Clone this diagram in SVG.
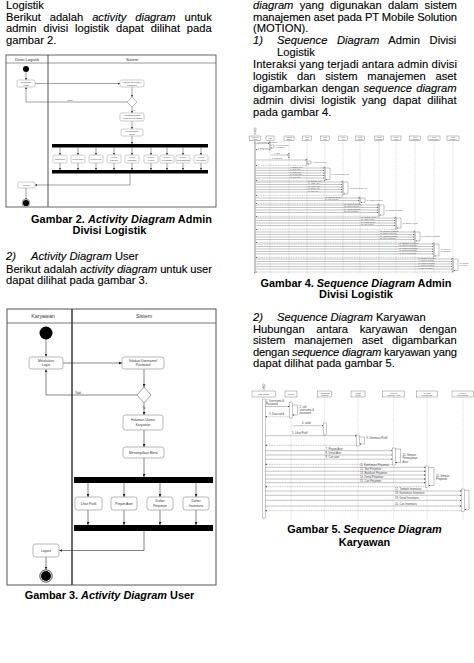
<svg xmlns="http://www.w3.org/2000/svg" width="474" height="663" viewBox="0 0 474 663">
<style>
.t{font-family:"Liberation Sans",Arial,sans-serif;font-size:11.2px;fill:#000;stroke:#000;stroke-width:0.12}
.i{font-style:italic}
.cap{font-family:"Liberation Sans",Arial,sans-serif;font-size:10.9px;font-weight:bold;fill:#000}
.frame{fill:#fff;stroke:#555;stroke-width:0.9}
.div{stroke:#444;stroke-width:1.3}
.ln{stroke:#333;stroke-width:0.45;fill:none}
.ln3{stroke:#333;stroke-width:0.6;fill:none}
.box{fill:#fff;stroke:#999;stroke-width:0.5}
.box3{fill:#fff;stroke:#999;stroke-width:0.7}
.bar{fill:#000}
.s2{font-family:"Liberation Sans",Arial,sans-serif;font-size:2.2px;fill:#333;text-anchor:middle}
.s3{font-family:"Liberation Sans",Arial,sans-serif;font-size:3.3px;fill:#333;text-anchor:middle}
.hd2{font-family:"Liberation Sans",Arial,sans-serif;font-size:4px;fill:#333;text-anchor:middle}
.hd3{font-family:"Liberation Sans",Arial,sans-serif;font-size:5.3px;fill:#333;text-anchor:middle}
.life{stroke:#aaa;stroke-width:0.4;stroke-dasharray:1 0.8}
.msg{stroke:#555;stroke-width:0.35;fill:none}
.ret{stroke:#555;stroke-width:0.35;fill:none;stroke-dasharray:1 0.7}
.act{fill:#fff;stroke:#666;stroke-width:0.35}
.hb{fill:#fff;stroke:#666;stroke-width:0.4}
.q4{font-family:"Liberation Sans",Arial,sans-serif;font-size:1.8px;fill:#555}
.q4c{font-family:"Liberation Sans",Arial,sans-serif;font-size:1.6px;fill:#444;text-anchor:middle}
.q5{font-family:"Liberation Sans",Arial,sans-serif;font-size:2.7px;fill:#444}
.q5c{font-family:"Liberation Sans",Arial,sans-serif;font-size:2.5px;fill:#444;text-anchor:middle}
</style>
<defs>
<marker id="a2" viewBox="0 0 10 10" refX="10" refY="5" markerWidth="2" markerHeight="2" markerUnits="userSpaceOnUse" orient="auto"><path d="M0,0L10,5L0,10z" fill="#222"/></marker>
<marker id="a3" viewBox="0 0 10 10" refX="10" refY="5" markerWidth="3" markerHeight="3" markerUnits="userSpaceOnUse" orient="auto"><path d="M0,0L10,5L0,10z" fill="#222"/></marker>
<marker id="as" viewBox="0 0 10 10" refX="10" refY="5" markerWidth="1.6" markerHeight="1.6" markerUnits="userSpaceOnUse" orient="auto"><path d="M0,0L10,5L0,10z" fill="#333"/></marker>
</defs>
<rect width="474" height="663" fill="#fff"/>

<!-- ===== Left column text ===== -->
<g id="text-left">
<text class="t" x="6" y="9">Logistik</text>
<text class="t" x="6" y="20.6" word-spacing="5.75">Berikut adalah <tspan class="i">activity diagram</tspan> untuk</text>
<text class="t" x="6" y="32.4" word-spacing="3.7">admin divisi logistik dapat dilihat pada</text>
<text class="t" x="6" y="44.2">gambar 2.</text>
<text class="cap" x="31" y="222.7" textLength="181" lengthAdjust="spacing">Gambar 2.  <tspan class="i">Activity Diagram</tspan> Admin</text>
<text class="cap" x="109.5" y="234.3" text-anchor="middle">Divisi Logistik</text>
<text class="t" y="260"><tspan x="6" class="i">2)</tspan><tspan x="31" class="i">Activity Diagram</tspan> User</text>
<text class="t" x="6" y="272.7" textLength="206" lengthAdjust="spacing">Berikut adalah <tspan class="i">activity diagram</tspan> untuk user</text>
<text class="t" x="6" y="284.3">dapat dilihat pada gambar 3.</text>
<text class="cap" x="109.5" y="599.3" text-anchor="middle">Gambar 3. <tspan class="i">Activity Diagram</tspan> User</text>
</g>

<!-- ===== Right column text ===== -->
<g id="text-right">
<text class="t" x="253" y="9" word-spacing="3.1"><tspan class="i">diagram</tspan> yang digunakan dalam sistem</text>
<text class="t" x="253" y="20.6" textLength="204" lengthAdjust="spacing">manajemen aset pada PT Mobile Solution</text>
<text class="t" x="253" y="32.4">(MOTION).</text>
<text class="t" y="44.2"><tspan x="253" class="i">1)</tspan><tspan x="277" word-spacing="6.5"><tspan class="i">Sequence Diagram</tspan> Admin Divisi</tspan></text>
<text class="t" x="277" y="56">Logistik</text>
<text class="t" x="253" y="68" textLength="204" lengthAdjust="spacing">Interaksi yang terjadi antara admin divisi</text>
<text class="t" x="253" y="79.9" word-spacing="6.6">logistik dan sistem manajemen aset</text>
<text class="t" x="253" y="91.8" word-spacing="1.1">digambarkan dengan <tspan class="i">sequence diagram</tspan></text>
<text class="t" x="253" y="103.8" word-spacing="3.4">admin divisi logistik yang dapat dilihat</text>
<text class="t" x="253" y="115.7">pada gambar 4.</text>
<text class="cap" x="356" y="286.7" text-anchor="middle">Gambar 4. <tspan class="i">Sequence Diagram</tspan> Admin</text>
<text class="cap" x="356" y="297.7" text-anchor="middle">Divisi Logistik</text>
<text class="t" y="320.7"><tspan x="253" class="i">2)</tspan><tspan x="277" class="i">Sequence Diagram</tspan> Karyawan</text>
<text class="t" x="253" y="332.7" word-spacing="8.6">Hubungan antara karyawan dengan</text>
<text class="t" x="253" y="344.2" word-spacing="5.9">sistem manajemen aset digambarkan</text>
<text class="t" x="253" y="355.8" textLength="204" lengthAdjust="spacing">dengan <tspan class="i">sequence diagram</tspan> karyawan yang</text>
<text class="t" x="253" y="367.4">dapat dilihat pada gambar 5.</text>
<text class="cap" x="364.5" y="533.3" text-anchor="middle">Gambar 5. <tspan class="i">Sequence Diagram</tspan></text>
<text class="cap" x="364.5" y="545.5" text-anchor="middle">Karyawan</text>
</g>

<!-- ===== Activity Diagram 2 (Admin Divisi Logistik) ===== -->
<g id="ad2">
<g id="ad2-frame">
<rect class="frame" x="6" y="55" width="210" height="152"/>
<line x1="6" y1="63" x2="216" y2="63" stroke="#555" stroke-width="0.6"/>
<line class="div" x1="48" y1="55" x2="48" y2="207" style="stroke-width:0.9"/>
<text class="hd2" x="27" y="60.8">Divisi Logistik</text>
<text class="hd2" x="132" y="60.8">Sistem</text>
</g>
<g id="ad2-connectors">
<line class="ln" x1="26" y1="72" x2="26" y2="80" marker-end="url(#a2)"/>
<line class="ln" x1="35" y1="83.5" x2="120" y2="83.5" marker-end="url(#a2)"/>
<line class="ln" x1="132" y1="87" x2="132" y2="97" marker-end="url(#a2)"/>
<polyline class="ln" points="127,102 26,102 26,87.2" marker-end="url(#a2)"/>
<text class="s2" x="70" y="101.4">Tidak</text>
<line class="ln" x1="132" y1="107" x2="132" y2="113" marker-end="url(#a2)"/>
<text class="s2" x="133.8" y="110.5">Ya</text>
<line class="ln" x1="132" y1="121" x2="132" y2="129" marker-end="url(#a2)"/>
<line class="ln" x1="132" y1="136" x2="132" y2="144" marker-end="url(#a2)"/>
<g>
<line class="ln" x1="60" y1="147.5" x2="60" y2="155" marker-end="url(#a2)"/><line class="ln" x1="60" y1="163" x2="60" y2="170" marker-end="url(#a2)"/>
<line class="ln" x1="78" y1="147.5" x2="78" y2="155" marker-end="url(#a2)"/><line class="ln" x1="78" y1="163" x2="78" y2="170" marker-end="url(#a2)"/>
<line class="ln" x1="96" y1="147.5" x2="96" y2="155" marker-end="url(#a2)"/><line class="ln" x1="96" y1="163" x2="96" y2="170" marker-end="url(#a2)"/>
<line class="ln" x1="114" y1="147.5" x2="114" y2="155" marker-end="url(#a2)"/><line class="ln" x1="114" y1="163" x2="114" y2="170" marker-end="url(#a2)"/>
<line class="ln" x1="132" y1="147.5" x2="132" y2="155" marker-end="url(#a2)"/><line class="ln" x1="132" y1="163" x2="132" y2="170" marker-end="url(#a2)"/>
<line class="ln" x1="151" y1="147.5" x2="151" y2="155" marker-end="url(#a2)"/><line class="ln" x1="151" y1="163" x2="151" y2="170" marker-end="url(#a2)"/>
<line class="ln" x1="167" y1="147.5" x2="167" y2="155" marker-end="url(#a2)"/><line class="ln" x1="167" y1="163" x2="167" y2="170" marker-end="url(#a2)"/>
<line class="ln" x1="183" y1="147.5" x2="183" y2="155" marker-end="url(#a2)"/><line class="ln" x1="183" y1="163" x2="183" y2="170" marker-end="url(#a2)"/>
<line class="ln" x1="201" y1="147.5" x2="201" y2="155" marker-end="url(#a2)"/><line class="ln" x1="201" y1="163" x2="201" y2="170" marker-end="url(#a2)"/>
</g>
<polyline class="ln" points="130,173.5 130,185 35,185" marker-end="url(#a2)"/>
<line class="ln" x1="26" y1="188" x2="26" y2="199.5" marker-end="url(#a2)"/>
</g>
<g id="ad2-start"><circle cx="26" cy="69" r="3" fill="#000"/></g>
<g id="ad2-login"><rect class="box" x="17" y="80" width="18" height="7" rx="1.5"/><text class="s2" x="26" y="83">Melakukan</text><text class="s2" x="26" y="85.6">Login</text></g>
<g id="ad2-validasi"><rect class="box" x="120" y="80" width="24" height="7" rx="1.5"/><text class="s2" x="132" y="83">Validasi Username/</text><text class="s2" x="132" y="85.6">Password</text></g>
<g id="ad2-decision"><polygon points="132,97 137,102 132,107 127,102" fill="#fff" stroke="#777" stroke-width="0.5"/></g>
<g id="ad2-halaman"><rect class="box" x="120" y="113" width="24" height="8" rx="1.5"/><text class="s2" x="132" y="116.4">Halaman Utama</text><text class="s2" x="132" y="119.2">Admin Divisi Logistik</text></g>
<g id="ad2-menu"><rect class="box" x="121" y="129" width="22" height="7" rx="1.5"/><text class="s2" x="132" y="131.9">Menampilkan</text><text class="s2" x="132" y="134.5">Menu</text></g>
<g id="ad2-fork"><rect class="bar" x="52" y="144" width="156" height="3.5"/></g>
<g id="ad2-n1"><rect class="box" x="53" y="155" width="14" height="8" rx="1.5"/><text class="s2" x="60" y="159.8">Lihat Profil</text></g>
<g id="ad2-n2"><rect class="box" x="71" y="155" width="14" height="8" rx="1.5"/><text class="s2" x="78" y="159.8">Kelola User</text></g>
<g id="ad2-n3"><rect class="box" x="89" y="155" width="14" height="8" rx="1.5"/><text class="s2" x="96" y="159.8">Kelola Aset</text></g>
<g id="ad2-n4"><rect class="box" x="107" y="155" width="14" height="8" rx="1.5"/><text class="s2" x="114" y="158.4">Kelola</text><text class="s2" x="114" y="161">Kategori</text></g>
<g id="ad2-n5"><rect class="box" x="125" y="155" width="14" height="8" rx="1.5"/><text class="s2" x="132" y="158.4">Kelola</text><text class="s2" x="132" y="161">Ruangan</text></g>
<g id="ad2-n6"><rect class="box" x="144" y="155" width="14" height="8" rx="1.5"/><text class="s2" x="151" y="158.4">Kelola</text><text class="s2" x="151" y="161">Vendor</text></g>
<g id="ad2-n7"><rect class="box" x="160" y="155" width="14" height="8" rx="1.5"/><text class="s2" x="167" y="158.4">Kelola</text><text class="s2" x="167" y="161">Perawatan</text></g>
<g id="ad2-n8"><rect class="box" x="176" y="155" width="14" height="8" rx="1.5"/><text class="s2" x="183" y="158.4">Kelola</text><text class="s2" x="183" y="161">Peminjaman</text></g>
<g id="ad2-n9"><rect class="box" x="194" y="155" width="14" height="8" rx="1.5"/><text class="s2" x="201" y="158.4">Kelola</text><text class="s2" x="201" y="161">Inventaris</text></g>
<g id="ad2-join"><rect class="bar" x="52" y="170" width="156" height="3.5"/></g>
<g id="ad2-logout"><rect class="box" x="18" y="182" width="17" height="6" rx="1.5"/><text class="s2" x="26.5" y="185.8">Logout</text></g>
<g id="ad2-end"><circle cx="26" cy="203" r="3.9" fill="#fff" stroke="#000" stroke-width="0.4"/><circle cx="26" cy="203" r="3.1" fill="#000"/></g>
</g>

<!-- ===== Activity Diagram 3 (User) ===== -->
<g id="ad3">
<g id="ad3-frame">
<rect class="frame" x="7" y="309" width="209" height="276" style="stroke-width:1"/>
<line x1="7" y1="323" x2="216" y2="323" stroke="#555" stroke-width="0.8"/>
<line class="div" x1="72" y1="309" x2="72" y2="585" style="stroke-width:1.6"/>
<text class="hd3" x="43" y="318.3">Karyawan</text>
<text class="hd3" x="144" y="318.3">Sistem</text>
</g>
<g id="ad3-connectors">
<line class="ln3" x1="46" y1="339.5" x2="46" y2="356.6" marker-end="url(#a3)"/>
<line class="ln3" x1="63" y1="363" x2="122" y2="363" marker-end="url(#a3)"/>
<line class="ln3" x1="144" y1="369" x2="144" y2="387" marker-end="url(#a3)"/>
<polyline class="ln3" points="137,395 46,395 46,369.4" marker-end="url(#a3)"/>
<text class="s3" x="78" y="394.2" style="font-size:2.6px">Tidak</text>
<line class="ln3" x1="144" y1="403" x2="144" y2="415" marker-end="url(#a3)"/>
<text class="s3" x="144" y="408.6" style="font-size:2.6px">Ya</text>
<line class="ln3" x1="144" y1="430" x2="144" y2="447" marker-end="url(#a3)"/>
<line class="ln3" x1="144" y1="458" x2="144" y2="477" marker-end="url(#a3)"/>
<line class="ln3" x1="88" y1="483" x2="88" y2="497" marker-end="url(#a3)"/><line class="ln3" x1="88" y1="510" x2="88" y2="525" marker-end="url(#a3)"/>
<line class="ln3" x1="124" y1="483" x2="124" y2="497" marker-end="url(#a3)"/><line class="ln3" x1="124" y1="510" x2="124" y2="525" marker-end="url(#a3)"/>
<line class="ln3" x1="160" y1="483" x2="160" y2="497" marker-end="url(#a3)"/><line class="ln3" x1="160" y1="510" x2="160" y2="525" marker-end="url(#a3)"/>
<line class="ln3" x1="196" y1="483" x2="196" y2="497" marker-end="url(#a3)"/><line class="ln3" x1="196" y1="510" x2="196" y2="525" marker-end="url(#a3)"/>
<polyline class="ln3" points="144,531 144,550.5 59.3,550.5" marker-end="url(#a3)"/>
<line class="ln3" x1="46" y1="557" x2="46" y2="569.5" marker-end="url(#a3)"/>
</g>
<g id="ad3-start"><circle cx="46" cy="333" r="6.5" fill="#000"/></g>
<g id="ad3-login"><rect class="box3" x="29" y="357" width="34" height="12" rx="2.5"/><text class="s3" x="46" y="362">Melakukan</text><text class="s3" x="46" y="366.4">Login</text></g>
<g id="ad3-validasi"><rect class="box3" x="122" y="357" width="42" height="12" rx="2.5"/><text class="s3" x="143" y="362">Validasi Username/</text><text class="s3" x="143" y="366.4">Password</text></g>
<g id="ad3-decision"><polygon points="144,387 151,395 144,403 137,395" fill="#fff" stroke="#777" stroke-width="0.7"/></g>
<g id="ad3-halaman"><rect class="box3" x="123" y="415" width="40" height="15" rx="2.5"/><text class="s3" x="143" y="421.3">Halaman Utama</text><text class="s3" x="143" y="425.9">Karyawan</text></g>
<g id="ad3-menu"><rect class="box3" x="123" y="447" width="41" height="11" rx="2.5"/><text class="s3" x="143.5" y="453.7">Menampilkan Menu</text></g>
<g id="ad3-fork"><rect class="bar" x="74" y="477" width="139" height="6"/></g>
<g id="ad3-profil"><rect class="box3" x="75" y="497" width="27" height="13" rx="2.5"/><text class="s3" x="88.5" y="504.6">Lihat Profil</text></g>
<g id="ad3-pinjam"><rect class="box3" x="111" y="497" width="26" height="13" rx="2.5"/><text class="s3" x="124" y="504.6">Pinjam Aset</text></g>
<g id="ad3-daftarpinjaman"><rect class="box3" x="147" y="497" width="26" height="13" rx="2.5"/><text class="s3" x="160" y="502.4">Daftar</text><text class="s3" x="160" y="506.8">Pinjaman</text></g>
<g id="ad3-daftarinventaris"><rect class="box3" x="183" y="497" width="26" height="13" rx="2.5"/><text class="s3" x="196" y="502.4">Daftar</text><text class="s3" x="196" y="506.8">Inventaris</text></g>
<g id="ad3-join"><rect class="bar" x="74" y="525" width="139" height="6"/></g>
<g id="ad3-logout"><rect class="box3" x="33" y="544" width="26" height="13" rx="2.5"/><text class="s3" x="46" y="551.6">Logout</text></g>
<g id="ad3-end"><circle cx="46" cy="576" r="6.2" fill="#fff" stroke="#000" stroke-width="0.7"/><circle cx="46" cy="576" r="5" fill="#000"/></g>
</g>

<!-- ===== Sequence Diagram 4 (Admin Divisi Logistik) ===== -->
<g id="sd4">
<g id="sd4-actor" stroke="#555" stroke-width="0.35" fill="none"><circle cx="255" cy="129" r="1.2"/><path d="M255,130.2V133M253.4,131.2H256.6M255,133L253.8,135M255,133L256.2,135"/></g>
<g id="sd4-lifelines">
<line class="life" x1="255" y1="141" x2="255" y2="273"/><line class="life" x1="270" y1="141" x2="270" y2="273"/><line class="life" x1="289" y1="141" x2="289" y2="273"/><line class="life" x1="307" y1="141" x2="307" y2="273"/><line class="life" x1="325" y1="141" x2="325" y2="273"/><line class="life" x1="343" y1="141" x2="343" y2="273"/><line class="life" x1="360" y1="141" x2="360" y2="273"/><line class="life" x1="379" y1="141" x2="379" y2="273"/><line class="life" x1="396" y1="141" x2="396" y2="273"/><line class="life" x1="415" y1="141" x2="415" y2="273"/><line class="life" x1="434" y1="141" x2="434" y2="273"/><line class="life" x1="453" y1="141" x2="453" y2="273"/>
</g>
<g id="sd4-heads">
<rect class="hb" x="249.5" y="136" width="11" height="4.6"/><text class="q4c" x="255" y="138" style="font-size:1.4px">Admin Divisi</text><text class="q4c" x="255" y="139.8" style="font-size:1.4px">Logistik</text>
<rect class="hb" x="266" y="136" width="8" height="4.6"/><text class="q4c" x="270" y="138.9">Login</text>
<rect class="hb" x="284" y="136" width="10" height="4.6"/><text class="q4c" x="289" y="138">Halaman</text><text class="q4c" x="289" y="139.8">Utama</text>
<rect class="hb" x="302.5" y="136" width="9" height="4.6"/><text class="q4c" x="307" y="138">Lihat</text><text class="q4c" x="307" y="139.8">Profil</text>
<rect class="hb" x="320.5" y="136" width="9" height="4.6"/><text class="q4c" x="325" y="138">Kelola</text><text class="q4c" x="325" y="139.8">User</text>
<rect class="hb" x="338.5" y="136" width="9" height="4.6"/><text class="q4c" x="343" y="138">Kelola</text><text class="q4c" x="343" y="139.8">Aset</text>
<rect class="hb" x="355.5" y="136" width="9" height="4.6"/><text class="q4c" x="360" y="138">Kelola</text><text class="q4c" x="360" y="139.8">Kategori</text>
<rect class="hb" x="374.5" y="136" width="9" height="4.6"/><text class="q4c" x="379" y="138">Kelola</text><text class="q4c" x="379" y="139.8">Ruangan</text>
<rect class="hb" x="391" y="136" width="10" height="4.6"/><text class="q4c" x="396" y="138">Kelola</text><text class="q4c" x="396" y="139.8">Vendor</text>
<rect class="hb" x="409.5" y="136" width="11" height="4.6"/><text class="q4c" x="415" y="138">Kelola</text><text class="q4c" x="415" y="139.8">Perawatan</text>
<rect class="hb" x="428" y="136" width="12" height="4.6"/><text class="q4c" x="434" y="138">Kelola</text><text class="q4c" x="434" y="139.8">Peminjaman</text>
<rect class="hb" x="447" y="136" width="12" height="4.6"/><text class="q4c" x="453" y="138">Kelola</text><text class="q4c" x="453" y="139.8">Inventaris</text>
</g>
<g id="sd4-activations">
<rect class="act" x="254.2" y="142" width="1.6" height="131"/>
<rect class="act" x="269.2" y="142" width="1.6" height="8"/>
<rect class="act" x="288.2" y="153.5" width="1.6" height="4.5"/>
<rect class="act" x="306.2" y="159" width="1.6" height="6.5"/>
<rect class="act" x="324.2" y="167" width="1.6" height="14"/>
<rect class="act" x="342.2" y="181" width="1.6" height="14.5"/>
<rect class="act" x="359.2" y="197" width="1.6" height="6.5"/>
<rect class="act" x="378.2" y="204" width="1.6" height="12.5"/>
<rect class="act" x="395.2" y="217" width="1.6" height="12.5"/>
<rect class="act" x="414.2" y="231" width="1.6" height="11.5"/>
<rect class="act" x="433.2" y="243" width="1.6" height="14.5"/>
<rect class="act" x="452.2" y="258" width="1.6" height="14"/>
</g>
<g id="sd4-connectors">
<line class="msg" x1="255.8" y1="143.5" x2="269.2" y2="143.5" marker-end="url(#as)"/>
<polyline class="msg" points="270.8,145 274,145 274,148 270.8,148" marker-end="url(#as)"/>
<line class="ret" x1="269.2" y1="149.5" x2="255.8" y2="149.5" marker-end="url(#as)"/>
<line class="msg" x1="270.8" y1="155" x2="288.2" y2="155" marker-end="url(#as)"/>
<line class="msg" x1="255.8" y1="160" x2="306.2" y2="160" marker-end="url(#as)"/>
<polyline class="msg" points="307.8,161 311,161 311,164 307.8,164" marker-end="url(#as)"/>
<line class="ret" x1="306.2" y1="165.3" x2="255.8" y2="165.3" marker-end="url(#as)"/>
<line class="msg" x1="255.8" y1="168" x2="324.2" y2="168" marker-end="url(#as)"/><line class="msg" x1="255.8" y1="170.5" x2="324.2" y2="170.5" marker-end="url(#as)"/><line class="msg" x1="255.8" y1="173" x2="324.2" y2="173" marker-end="url(#as)"/><line class="msg" x1="255.8" y1="175.5" x2="324.2" y2="175.5" marker-end="url(#as)"/><line class="msg" x1="255.8" y1="178" x2="324.2" y2="178" marker-end="url(#as)"/>
<polyline class="msg" points="325.8,168 330,168 330,179.5 325.8,179.5" marker-end="url(#as)"/>
<line class="ret" x1="324.2" y1="180.7" x2="255.8" y2="180.7" marker-end="url(#as)"/>
<line class="msg" x1="255.8" y1="182" x2="342.2" y2="182" marker-end="url(#as)"/><line class="msg" x1="255.8" y1="184.5" x2="342.2" y2="184.5" marker-end="url(#as)"/><line class="msg" x1="255.8" y1="187" x2="342.2" y2="187" marker-end="url(#as)"/><line class="msg" x1="255.8" y1="189.5" x2="342.2" y2="189.5" marker-end="url(#as)"/><line class="msg" x1="255.8" y1="192" x2="342.2" y2="192" marker-end="url(#as)"/>
<polyline class="msg" points="343.8,182 348,182 348,194 343.8,194" marker-end="url(#as)"/>
<line class="ret" x1="342.2" y1="195.3" x2="255.8" y2="195.3" marker-end="url(#as)"/>
<line class="msg" x1="255.8" y1="198" x2="359.2" y2="198" marker-end="url(#as)"/><line class="msg" x1="255.8" y1="200.5" x2="359.2" y2="200.5" marker-end="url(#as)"/>
<polyline class="msg" points="360.8,198 365,198 365,202.3 360.8,202.3" marker-end="url(#as)"/>
<line class="ret" x1="359.2" y1="203.3" x2="255.8" y2="203.3" marker-end="url(#as)"/>
<line class="msg" x1="255.8" y1="205" x2="378.2" y2="205" marker-end="url(#as)"/><line class="msg" x1="255.8" y1="207.5" x2="378.2" y2="207.5" marker-end="url(#as)"/><line class="msg" x1="255.8" y1="210" x2="378.2" y2="210" marker-end="url(#as)"/><line class="msg" x1="255.8" y1="212.5" x2="378.2" y2="212.5" marker-end="url(#as)"/>
<polyline class="msg" points="379.8,205 384,205 384,215 379.8,215" marker-end="url(#as)"/>
<line class="ret" x1="378.2" y1="216.3" x2="255.8" y2="216.3" marker-end="url(#as)"/>
<line class="msg" x1="255.8" y1="218" x2="395.2" y2="218" marker-end="url(#as)"/><line class="msg" x1="255.8" y1="220.5" x2="395.2" y2="220.5" marker-end="url(#as)"/><line class="msg" x1="255.8" y1="223" x2="395.2" y2="223" marker-end="url(#as)"/><line class="msg" x1="255.8" y1="225.5" x2="395.2" y2="225.5" marker-end="url(#as)"/>
<polyline class="msg" points="396.8,218 401,218 401,228 396.8,228" marker-end="url(#as)"/>
<line class="ret" x1="395.2" y1="229.3" x2="255.8" y2="229.3" marker-end="url(#as)"/>
<line class="msg" x1="255.8" y1="232" x2="414.2" y2="232" marker-end="url(#as)"/><line class="msg" x1="255.8" y1="234.5" x2="414.2" y2="234.5" marker-end="url(#as)"/><line class="msg" x1="255.8" y1="237" x2="414.2" y2="237" marker-end="url(#as)"/><line class="msg" x1="255.8" y1="239.5" x2="414.2" y2="239.5" marker-end="url(#as)"/>
<polyline class="msg" points="415.8,232 420,232 420,241 415.8,241" marker-end="url(#as)"/>
<line class="ret" x1="414.2" y1="242.3" x2="255.8" y2="242.3" marker-end="url(#as)"/>
<line class="msg" x1="255.8" y1="244" x2="433.2" y2="244" marker-end="url(#as)"/><line class="msg" x1="255.8" y1="246.5" x2="433.2" y2="246.5" marker-end="url(#as)"/><line class="msg" x1="255.8" y1="249" x2="433.2" y2="249" marker-end="url(#as)"/><line class="msg" x1="255.8" y1="251.5" x2="433.2" y2="251.5" marker-end="url(#as)"/><line class="msg" x1="255.8" y1="254" x2="433.2" y2="254" marker-end="url(#as)"/>
<polyline class="msg" points="434.8,244 439,244 439,256 434.8,256" marker-end="url(#as)"/>
<line class="ret" x1="433.2" y1="257.3" x2="255.8" y2="257.3" marker-end="url(#as)"/>
<line class="msg" x1="255.8" y1="259" x2="452.2" y2="259" marker-end="url(#as)"/><line class="msg" x1="255.8" y1="261.5" x2="452.2" y2="261.5" marker-end="url(#as)"/><line class="msg" x1="255.8" y1="264" x2="452.2" y2="264" marker-end="url(#as)"/><line class="msg" x1="255.8" y1="266.5" x2="452.2" y2="266.5" marker-end="url(#as)"/><line class="msg" x1="255.8" y1="269" x2="452.2" y2="269" marker-end="url(#as)"/>
<polyline class="msg" points="453.8,259 458,259 458,270.5 453.8,270.5" marker-end="url(#as)"/>
<line class="ret" x1="452.2" y1="272" x2="255.8" y2="272" marker-end="url(#as)"/>
</g>
<g id="sd4-labels">
<text class="q4" x="257" y="142.8">1. Username &amp; Password</text>
<text class="q4" x="275.5" y="146.3">2. cek username</text><text class="q4" x="275.5" y="148.3">&amp; password</text>
<text class="q4" x="258" y="149">3. Data valid</text>
<text class="q4" x="274" y="154.4">4. valid</text>
<text class="q4" x="272" y="159.4">5. Lihat Profil</text>
<text class="q4" x="312.5" y="163">6. Informasi Profil</text>
<text class="q4" x="290" y="167.6">7. Tambah User</text><text class="q4" x="290" y="170.1">8. Ubah User</text><text class="q4" x="290" y="172.6">9. Hapus User</text><text class="q4" x="290" y="175.1">10. Detail User</text><text class="q4" x="290" y="177.6">11. Cari User</text>
<text class="q4" x="331.5" y="174.5">12. Simpan Data User</text>
<text class="q4" x="308" y="181.6">13. Tambah Aset</text><text class="q4" x="308" y="184.1">14. Ubah Aset</text><text class="q4" x="308" y="186.6">15. Hapus Aset</text><text class="q4" x="308" y="189.1">16. Detail Aset</text><text class="q4" x="308" y="191.6">17. Cari Aset</text>
<text class="q4" x="349.5" y="188.5">18. Simpan Data Aset</text>
<text class="q4" x="325" y="197.6">19. Tambah Kategori</text><text class="q4" x="325" y="200.1">20. Cari Kategori</text>
<text class="q4" x="366.5" y="200.8">21. Simpan Kategori</text>
<text class="q4" x="344" y="204.6">22. Tambah Ruangan</text><text class="q4" x="344" y="207.1">23. Ubah Ruangan</text><text class="q4" x="344" y="209.6">24. Hapus Ruangan</text><text class="q4" x="344" y="212.1">25. Cari Ruangan</text>
<text class="q4" x="385.5" y="210.5">26. Simpan Ruangan</text>
<text class="q4" x="361" y="217.6">27. Tambah Vendor</text><text class="q4" x="361" y="220.1">28. Ubah Vendor</text><text class="q4" x="361" y="222.6">29. Hapus Vendor</text><text class="q4" x="361" y="225.1">30. Cari Vendor</text>
<text class="q4" x="402.5" y="223.5">31. Simpan Vendor</text>
<text class="q4" x="380" y="231.6">32. Tambah Perawatan</text><text class="q4" x="380" y="234.1">33. Ubah Perawatan</text><text class="q4" x="380" y="236.6">34. Hapus Perawatan</text><text class="q4" x="380" y="239.1">35. Cari Perawatan</text>
<text class="q4" x="421.5" y="237">36. Simpan Perawatan</text>
<text class="q4" x="399" y="243.6">37. Tambah Peminjaman</text><text class="q4" x="399" y="246.1">38. Ubah Peminjaman</text><text class="q4" x="399" y="248.6">39. Hapus Peminjaman</text><text class="q4" x="399" y="251.1">40. Detail Peminjaman</text><text class="q4" x="399" y="253.6">41. Cari Peminjaman</text>
<text class="q4" x="440.5" y="250">42. Simpan</text><text class="q4" x="440.5" y="252">Peminjaman</text>
<text class="q4" x="418" y="258.6">43. Tambah Inventaris</text><text class="q4" x="418" y="261.1">44. Ubah Inventaris</text><text class="q4" x="418" y="263.6">45. Hapus Inventaris</text><text class="q4" x="418" y="266.1">46. Detail Inventaris</text><text class="q4" x="418" y="268.6">47. Cari Inventaris</text>
<text class="q4" x="459.5" y="264">48. Simpan</text><text class="q4" x="459.5" y="266">Inventaris</text>
</g>
</g>

<!-- ===== Sequence Diagram 5 (Karyawan) ===== -->
<g id="sd5">
<g id="sd5-actor" stroke="#555" stroke-width="0.4" fill="none"><circle cx="263.7" cy="385.3" r="1.2"/><path d="M263.7,386.5V388.5M262,387.2H265.4M263.7,388.5L262.5,390M263.7,388.5L264.9,390"/></g>
<g id="sd5-lifelines">
<line class="life" x1="263.7" y1="397" x2="263.7" y2="520"/><line class="life" x1="291" y1="397" x2="291" y2="520"/><line class="life" x1="324.7" y1="397" x2="324.7" y2="520"/><line class="life" x1="358" y1="397" x2="358" y2="520"/><line class="life" x1="393.7" y1="397" x2="393.7" y2="520"/><line class="life" x1="427" y1="397" x2="427" y2="520"/><line class="life" x1="463" y1="397" x2="463" y2="520"/>
</g>
<g id="sd5-heads">
<g id="sd5-karyawan"><rect class="hb" x="252" y="391" width="23.4" height="6"/><text class="q5c" x="263.7" y="394.9">Karyawan</text></g>
<g id="sd5-login"><rect class="hb" x="285" y="391" width="12" height="6"/><text class="q5c" x="291" y="394.9">Login</text></g>
<g id="sd5-halaman"><rect class="hb" x="317.7" y="391" width="14" height="6"/><text class="q5c" x="324.7" y="393.6">Halaman</text><text class="q5c" x="324.7" y="396.2">Utama</text></g>
<g id="sd5-profil"><rect class="hb" x="351" y="391" width="14" height="6"/><text class="q5c" x="358" y="393.6">Lihat</text><text class="q5c" x="358" y="396.2">Profil</text></g>
<g id="sd5-pinjamaset"><rect class="hb" x="382.7" y="391" width="22" height="6"/><text class="q5c" x="393.7" y="393.6">Kelola</text><text class="q5c" x="393.7" y="396.2">Pinjam Aset</text></g>
<g id="sd5-pinjaman"><rect class="hb" x="416.5" y="391" width="21" height="6"/><text class="q5c" x="427" y="393.6">Kelola</text><text class="q5c" x="427" y="396.2">Pinjaman</text></g>
<g id="sd5-inventaris"><rect class="hb" x="452" y="391" width="21.5" height="6"/><text class="q5c" x="462.7" y="393.6">Kelola</text><text class="q5c" x="462.7" y="396.2">Inventaris</text></g>
</g>
<g id="sd5-activations">
<rect class="act" x="262.2" y="399" width="3" height="119"/>
<rect class="act" x="289.5" y="402" width="3" height="16"/>
<rect class="act" x="323.2" y="423" width="3" height="12"/>
<rect class="act" x="356.5" y="435" width="3" height="11"/>
<rect class="act" x="392.2" y="448" width="3" height="17"/>
<rect class="act" x="425.5" y="466" width="3" height="21.5"/>
<rect class="act" x="461.5" y="489" width="3" height="22.5"/>
</g>
<g id="sd5-connectors">
<line class="msg" x1="265.2" y1="406.5" x2="289.5" y2="406.5" marker-end="url(#as)"/>
<polyline class="msg" points="292.5,405 297.5,405 297.5,415 292.5,415" marker-end="url(#as)"/>
<line class="ret" x1="289.5" y1="416.7" x2="265.2" y2="416.7" marker-end="url(#as)"/>
<line class="msg" x1="292.5" y1="425.7" x2="323.2" y2="425.7" marker-end="url(#as)"/>
<line class="msg" x1="265.2" y1="435.7" x2="356.5" y2="435.7" marker-end="url(#as)"/>
<polyline class="msg" points="359.5,437 364.5,437 364.5,444 359.5,444" marker-end="url(#as)"/>
<line class="ret" x1="356.5" y1="445.3" x2="265.2" y2="445.3" marker-end="url(#as)"/>
<line class="msg" x1="265.2" y1="450.7" x2="392.2" y2="450.7" marker-end="url(#as)"/>
<line class="msg" x1="265.2" y1="455" x2="392.2" y2="455" marker-end="url(#as)"/>
<line class="msg" x1="265.2" y1="459.2" x2="392.2" y2="459.2" marker-end="url(#as)"/>
<polyline class="msg" points="395.2,449 400.5,449 400.5,462.5 395.2,462.5" marker-end="url(#as)"/>
<line class="ret" x1="392.2" y1="464.3" x2="265.2" y2="464.3" marker-end="url(#as)"/>
<line class="msg" x1="265.2" y1="467.3" x2="425.5" y2="467.3" marker-end="url(#as)"/>
<line class="msg" x1="265.2" y1="471.2" x2="425.5" y2="471.2" marker-end="url(#as)"/>
<line class="msg" x1="265.2" y1="475" x2="425.5" y2="475" marker-end="url(#as)"/>
<line class="msg" x1="265.2" y1="479" x2="425.5" y2="479" marker-end="url(#as)"/>
<line class="msg" x1="265.2" y1="482.7" x2="425.5" y2="482.7" marker-end="url(#as)"/>
<polyline class="msg" points="428.5,467.5 434,467.5 434,485.5 428.5,485.5" marker-end="url(#as)"/>
<line class="ret" x1="425.5" y1="486.7" x2="265.2" y2="486.7" marker-end="url(#as)"/>
<line class="msg" x1="265.2" y1="491" x2="461.5" y2="491" marker-end="url(#as)"/>
<line class="msg" x1="265.2" y1="495.3" x2="461.5" y2="495.3" marker-end="url(#as)"/>
<line class="msg" x1="265.2" y1="500.3" x2="461.5" y2="500.3" marker-end="url(#as)"/>
<line class="msg" x1="265.2" y1="506" x2="461.5" y2="506" marker-end="url(#as)"/>
<polyline class="msg" points="464.5,490.3 469,490.3 469,509.5 464.5,509.5" marker-end="url(#as)"/>
<line class="ret" x1="461.5" y1="510.7" x2="265.2" y2="510.7" marker-end="url(#as)"/>
</g>
<g id="sd5-labels">
<text class="q5" x="266" y="402.3">1. Username &amp;</text><text class="q5" x="266" y="405.4">Password</text>
<text class="q5" x="299.5" y="408.3">2. cek</text><text class="q5" x="299.5" y="411.3">username &amp;</text><text class="q5" x="299.5" y="414.3">password</text>
<text class="q5" x="269" y="415.4">3. Data valid</text>
<text class="q5" x="302" y="424.4">4. valid</text>
<text class="q5" x="292" y="434.4">5. Lihat Profil</text>
<text class="q5" x="366.5" y="439">6. Informasi Profil</text>
<text class="q5" x="325.5" y="449.5">7. Pinjam Aset</text>
<text class="q5" x="325.5" y="453.8">8. Detail Aset</text>
<text class="q5" x="325.5" y="458">9. Cari aset</text>
<text class="q5" x="402.5" y="456">10. Simpan</text><text class="q5" x="402.5" y="459.3">Peminjaman</text><text class="q5" x="402.5" y="462.6">Aset</text>
<text class="q5" x="360" y="466.1">11. Konfirmasi Pinjaman</text>
<text class="q5" x="360" y="470">12. Stat Pinjaman</text>
<text class="q5" x="360" y="473.8">13. Batalkan Pinjaman</text>
<text class="q5" x="360" y="477.8">14. Detail Pinjaman</text>
<text class="q5" x="360" y="481.5">15. Cari Pinjaman</text>
<text class="q5" x="436" y="476.5">16. Simpan</text><text class="q5" x="436" y="479.8">Pinjaman</text>
<text class="q5" x="395" y="489.8">17. Tambah Inventaris</text>
<text class="q5" x="395" y="494.1">18. Konfirmasi Inventaris</text>
<text class="q5" x="395" y="499.1">19. Detail Inventaris</text>
<text class="q5" x="395" y="504.8">20. Cari Inventaris</text>
</g>
</g>
</svg>
